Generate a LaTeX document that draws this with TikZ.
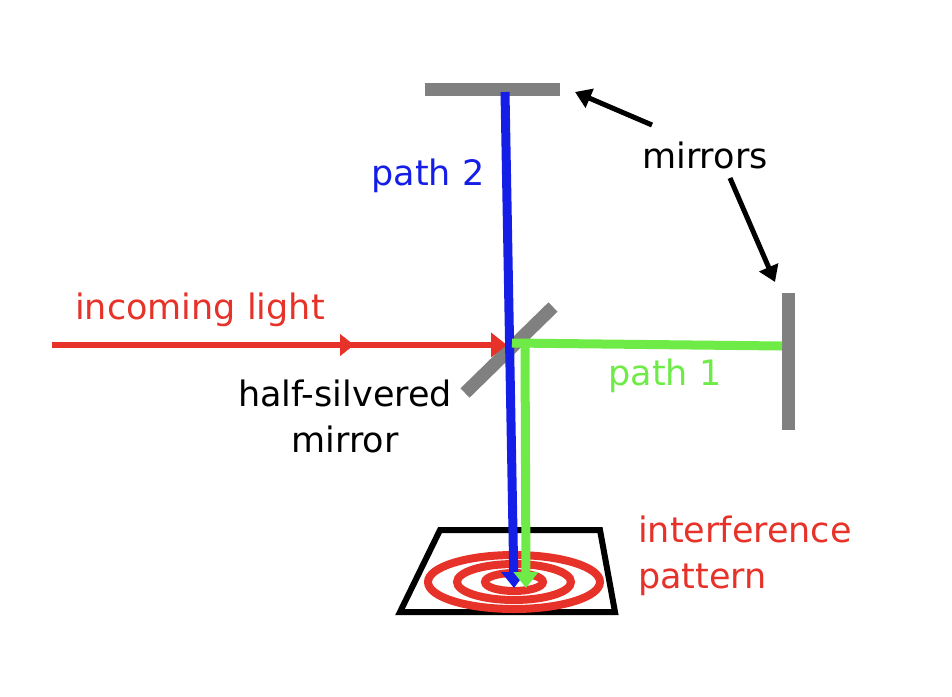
\documentclass[tikz,border=0pt]{standalone}
\usepackage{fontspec}
\setmainfont{DejaVu Sans}
\usetikzlibrary{arrows.meta}
\definecolor{mred}{RGB}{230,50,40}
\definecolor{mblue}{RGB}{20,30,230}
\definecolor{mgreen}{RGB}{110,235,70}
\definecolor{mgray}{RGB}{128,128,128}
\begin{document}
\begin{tikzpicture}[x=1pt,y=-1pt,
  lbl/.style={font=\fontsize{35}{46}\selectfont,inner sep=0pt},
  mir/.style={line width=13pt,mgray},
  beam/.style={line width=9pt},
  tip/.style={-{Triangle[length=16pt,width=24pt]}}]
\useasboundingbox (0,0) rectangle (952,696);
% mirrors
\draw[mir] (425,89) -- (560,89);
\draw[mir] (788,293) -- (788,430);
\draw[mir] (465,393) -- (553,307);
% screen and pattern
\draw[line width=6pt,line join=miter] (440,530) -- (600,530) -- (615,612) -- (400,612) -- cycle;
\begin{scope}[mred,line width=8pt]
\draw (514,582) ellipse [x radius=86,y radius=27];
\draw (514,582) ellipse [x radius=57,y radius=18];
\draw (514,582) ellipse [x radius=29,y radius=9];
\end{scope}
% beams
\coordinate (src) at (52,345);
\coordinate (bs) at (507,345);
\coordinate (m1) at (782,346);
\coordinate (m2) at (505,92);
\coordinate (scr) at (520,588);
\draw[line width=6pt,mred,tip] (src) -- (bs);
\draw[mred,-{Triangle[length=14pt,width=22pt]}] (330,345) -- (354,345);
\draw[beam,mblue,tip] (m2) -- ([xshift=-6pt]scr);
\draw[beam,mgreen] (m1) -- (512,343);
\draw[beam,mgreen,tip] (525,343) -- ([xshift=6pt]scr);
% labels
\node[lbl] (mirrors) at (705,155) {mirrors};
\node[lbl,mblue] (p2) at (428,176) {path 2};
\node[lbl,mred] (inc) at (200,310) {incoming light};
\node[lbl,align=center] (hsm) at (345,416) {half-silvered\\mirror};
\node[lbl,mgreen] (p1) at (665,376) {path 1};
\node[lbl,mred,align=left,anchor=west] (ip) at (638,556) {interference\\pattern};
% pointer arrows
\draw[line width=5pt,-{Triangle[length=16pt,width=20pt]}] (652,125) -- (575,92);
\draw[line width=5pt,-{Triangle[length=16pt,width=20pt]}] (730,178) -- (775,282);
\end{tikzpicture}
\end{document}
